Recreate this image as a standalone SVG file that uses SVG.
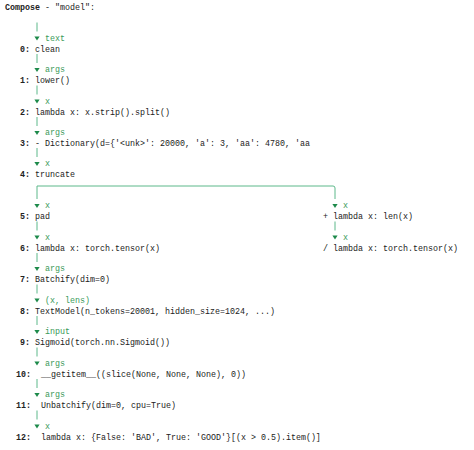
<svg xmlns="http://www.w3.org/2000/svg" xmlns:xlink="http://www.w3.org/1999/xlink" width="474" height="450" viewBox="0 0 474 450">
<style>
text{font-family:"Liberation Mono","DejaVu Sans Mono",monospace;font-size:8.33px;fill:#222;}
.b{font-weight:bold;}
.lbl{fill:#3a9a5a;}
.ln{fill:none;stroke:#5cb88a;stroke-width:1;}
.tri{fill:#1d8a4a;}
</style>
<defs>
<polygon id="tri" class="tri" points="-2.6,0 2.6,0 0,4"/>
</defs>
<rect width="474" height="450" fill="#fff"/>
<g id="title"><text x="5" y="10"><tspan class="b">Compose</tspan> - "model":</text></g>
<g id="connectors">
<path class="ln" d="M37,22.5V31.5M37,54V63M37,85.5V94.5M37,117V126M37,148V157M37,186V199M37,186H333Q335,186 335,188V199M335,221.5V230.5M37,221.5V230.5M37,253V262M37,284.5V293.5M37,316V325M37,347.5V356.5M37,379V388M37,410.5V419.5"/>
<use href="#tri" x="37" y="36.5"/><text class="lbl" x="45" y="40.5">text</text>
<use href="#tri" x="37" y="68"/><text class="lbl" x="45" y="72">args</text>
<use href="#tri" x="37" y="99.5"/><text class="lbl" x="45" y="103.5">x</text>
<use href="#tri" x="37" y="131"/><text class="lbl" x="45" y="135">args</text>
<use href="#tri" x="37" y="162"/><text class="lbl" x="45" y="166">x</text>
<use href="#tri" x="37" y="204"/><text class="lbl" x="45" y="208">x</text>
<use href="#tri" x="335" y="204"/><text class="lbl" x="343" y="208">x</text>
<use href="#tri" x="37" y="235.5"/><text class="lbl" x="45" y="239.5">x</text>
<use href="#tri" x="335" y="235.5"/><text class="lbl" x="343" y="239.5">x</text>
<use href="#tri" x="37" y="267"/><text class="lbl" x="45" y="271">args</text>
<use href="#tri" x="37" y="298.5"/><text class="lbl" x="45" y="302.5">(x, lens)</text>
<use href="#tri" x="37" y="330"/><text class="lbl" x="45" y="334">input</text>
<use href="#tri" x="37" y="361.5"/><text class="lbl" x="45" y="365.5">args</text>
<use href="#tri" x="37" y="393"/><text class="lbl" x="45" y="397">args</text>
<use href="#tri" x="37" y="424.5"/><text class="lbl" x="45" y="428.5">x</text>
</g>
<g id="n0"><text class="b" x="20" y="51.5">0:</text><text x="35" y="51.5">clean</text></g>
<g id="n1"><text class="b" x="20" y="83">1:</text><text x="35" y="83">lower()</text></g>
<g id="n2"><text class="b" x="20" y="114.5">2:</text><text x="35" y="114.5">lambda x: x.strip().split()</text></g>
<g id="n3"><text class="b" x="20" y="146">3:</text><text x="35" y="146">- Dictionary(d={'&lt;unk&gt;': 20000, 'a': 3, 'aa': 4780, 'aa</text></g>
<g id="n4"><text class="b" x="20" y="177">4:</text><text x="35" y="177">truncate</text></g>
<g id="n5"><text class="b" x="20" y="219">5:</text><text x="35" y="219">pad</text></g>
<g id="n5b"><text x="323" y="219">+ lambda x: len(x)</text></g>
<g id="n6"><text class="b" x="20" y="250.5">6:</text><text x="35" y="250.5">lambda x: torch.tensor(x)</text></g>
<g id="n6b"><text x="323" y="250.5">/ lambda x: torch.tensor(x)</text></g>
<g id="n7"><text class="b" x="20" y="282">7:</text><text x="35" y="282">Batchify(dim=0)</text></g>
<g id="n8"><text class="b" x="20" y="313.5">8:</text><text x="35" y="313.5">TextModel(n_tokens=20001, hidden_size=1024, ...)</text></g>
<g id="n9"><text class="b" x="20" y="345">9:</text><text x="35" y="345">Sigmoid(torch.nn.Sigmoid())</text></g>
<g id="n10"><text class="b" x="16" y="376.5">10:</text><text x="41" y="376.5">__getitem__((slice(None, None, None), 0))</text></g>
<g id="n11"><text class="b" x="16" y="408">11:</text><text x="41" y="408">Unbatchify(dim=0, cpu=True)</text></g>
<g id="n12"><text class="b" x="16" y="439.5">12:</text><text x="41" y="439.5">lambda x: {False: 'BAD', True: 'GOOD'}[(x &gt; 0.5).item()]</text></g>
</svg>
